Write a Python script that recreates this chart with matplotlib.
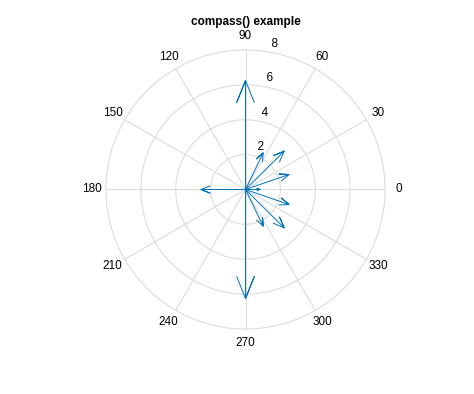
import numpy as np
import matplotlib
matplotlib.use("Agg")
import matplotlib.pyplot as plt

# ==========================
# DATA (eigenvalues)
# ==========================
re_part = [0.0, 0.0, -2.55, 0.83, 1.01, 1.01, 2.22, 2.22, 2.49, 2.49]
im_part = [6.25, -6.25, 0.0, 0.0, 2.1, -2.1, 2.2, -2.2, 0.86, -0.86]
ring_values = [2, 4, 6, 8]
angle_labels = [0, 30, 60, 90, 120, 150, 180, 210, 240, 270, 300, 330]

plt.rcParams['font.family'] = ['Liberation Sans', 'DejaVu Sans']

GRID = '#dcdcdc'
BLUE = '#0072BD'
rmax = ring_values[-1]

fig = plt.figure(figsize=(4.74, 3.94), dpi=100)
ax = fig.add_axes([0.15, 0.0764, 0.7359, 0.8853])
ax.set_xlim(-10, 10)
ax.set_ylim(-10, 10)
ax.axis('off')

# polar grid: rings and spokes
t = np.linspace(0, 2 * np.pi, 361)
for r in ring_values:
    ax.plot(r * np.cos(t), r * np.sin(t), color=GRID, lw=0.8, zorder=1)
    a = np.deg2rad(82)
    ax.text((r + 0.1) * np.cos(a), (r + 0.1) * np.sin(a), '  ' + str(r),
            ha='left', va='bottom', fontsize=8.5, color='black')
for ang in angle_labels[:6]:
    a = np.deg2rad(ang)
    ax.plot([-rmax * np.cos(a), rmax * np.cos(a)],
            [-rmax * np.sin(a), rmax * np.sin(a)], color=GRID, lw=0.8, zorder=1)
for ang in angle_labels:
    a = np.deg2rad(ang)
    ax.text(1.1 * rmax * np.cos(a), 1.1 * rmax * np.sin(a), str(ang),
            ha='center', va='center', fontsize=8.5)

# arrows like MATLAB compass: shaft + two head strokes
z = np.array(re_part) + 1j * np.array(im_part)
arrow = np.array([0, 1, 0.8, 1, 0.8]) + 1j * np.array([0, 0, 0.08, 0, -0.08])
for zz in z:
    pts = arrow * zz
    ax.plot(pts.real, pts.imag, color=BLUE, lw=0.7, zorder=3)

fig.text(0.518, 0.945, 'compass() example', ha='center', va='center',
         fontsize=8.5, fontweight='bold')

fig.savefig('out.png', dpi=100, facecolor='white')
